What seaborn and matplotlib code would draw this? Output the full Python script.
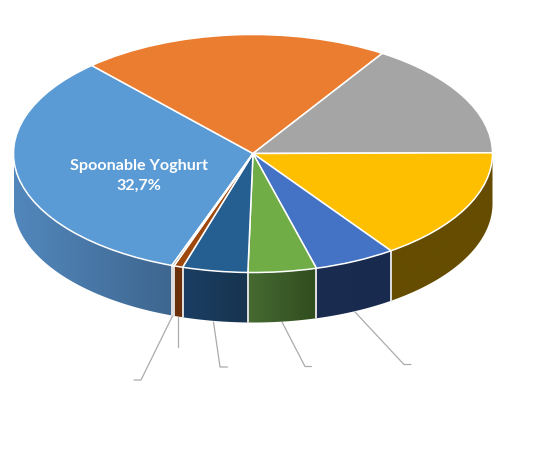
import numpy as np
import matplotlib
matplotlib.use('Agg')
import matplotlib.pyplot as plt
import seaborn as sns
from matplotlib.patches import Polygon

# shares, only the first one is printed on the chart
categories = ['Spoonable Yoghurt', '', '', '', '', '', '', '', '']
shares = [32.7, 20.8, 15.8, 15.3, 5.5, 4.6, 4.4, 0.6, 0.15]
top_colors = ['#5B9BD5', '#EB7D31', '#A5A5A5', '#FDBF00', '#4472C4',
              '#70AD47', '#255E91', '#9E480E', '#636363']
# side wall colours, left and right end of the gradient
wall_left = ['#5287BC', None, None, '#654C00', '#1A2C50',
             '#466A32', '#1A3E63', '#6B3009', '#8A8A8A']
wall_right = ['#3E668F', None, None, '#654C00', '#182A4E',
              '#304D1E', '#17344F', '#6B3009', '#8A8A8A']

START_ANGLE = -109.8
CX, CY, RX, RY = 253, 153.5, 239.5, 119
DEPTH = 50 / RY

sns.set_theme(style='white')
plt.rcParams['font.family'] = ['Lato', 'DejaVu Sans']


def px(x, y):
    # reference pixel -> data coordinates
    return (x - CX) / RX, (CY - y) / RY


fig = plt.figure(figsize=(5.4, 4.55), dpi=100)
ax = fig.add_axes([0, 0, 1, 1])

wedges, _ = ax.pie(shares, colors=sns.color_palette(top_colors), startangle=START_ANGLE,
                   counterclock=False, radius=1, wedgeprops={'edgecolor': 'white', 'linewidth': 1.1})
for w in wedges:
    w.set_zorder(5)

# side walls, only the front half of the rim shows
fractions = np.array(shares) / sum(shares)
angle = START_ANGLE
for share, c0, c1 in zip(fractions, wall_left, wall_right):
    a0, a1 = angle - share * 360, angle
    angle = a0
    a0_w = a0 % 360
    a1_w = a0_w + (a1 - a0)
    lo, hi = max(a0_w, 180), min(a1_w, 360)
    if c0 is None or lo >= hi:
        continue
    t = np.radians(np.linspace(lo, hi, 80))
    xs, ys = np.cos(t), np.sin(t)
    verts = np.r_[np.c_[xs, ys], np.c_[xs[::-1], ys[::-1] - DEPTH]]
    poly = Polygon(verts, closed=True, facecolor='none', edgecolor='none', transform=ax.transData)
    ax.add_patch(poly)
    c0_rgb = np.array(matplotlib.colors.to_rgb(c0))
    c1_rgb = np.array(matplotlib.colors.to_rgb(c1))
    grad = np.linspace(c0_rgb, c1_rgb, 64)[np.newaxis, :, :]
    img = ax.imshow(grad, extent=(xs.min(), xs.max(), ys.min() - DEPTH - 0.02, ys.max() + 0.02),
                    aspect='auto', interpolation='bilinear', zorder=2)
    img.set_clip_path(poly)
    # white seam between neighbouring walls
    for x_end, y_end in ((xs[0], ys[0]), (xs[-1], ys[-1])):
        if y_end < -0.01:
            ax.plot([x_end, x_end], [y_end, y_end - DEPTH], color='#E4E4E4', lw=1.1, zorder=3)

# leader lines of the labels that are white on white in the original
leaders = [[(172.5, 316), (141, 380), (134, 380)],
           [(177.5, 317), (177.5, 347)],
           [(213.5, 322), (220, 367), (227.5, 367)],
           [(282, 322), (305, 366.5), (311.5, 366.5)],
           [(355, 312), (404, 364.5), (411, 364.5)]]
for pts in leaders:
    xy = np.array([px(*p) for p in pts])
    ax.plot(xy[:, 0], xy[:, 1], color='#ABABAB', lw=0.9, zorder=1)

lx, ly = px(139, 176)
ax.text(lx, ly, f'{categories[0]}\n32,7%', color='white', fontweight='bold', fontsize=11.6,
        ha='center', va='center', linespacing=1.5, zorder=6)

ax.set_aspect('auto')
ax.set_xlim(px(0, 0)[0], px(540, 0)[0])
ax.set_ylim(px(0, 455)[1], px(0, 0)[1])
ax.axis('off')

fig.savefig('out.png', dpi=100)
